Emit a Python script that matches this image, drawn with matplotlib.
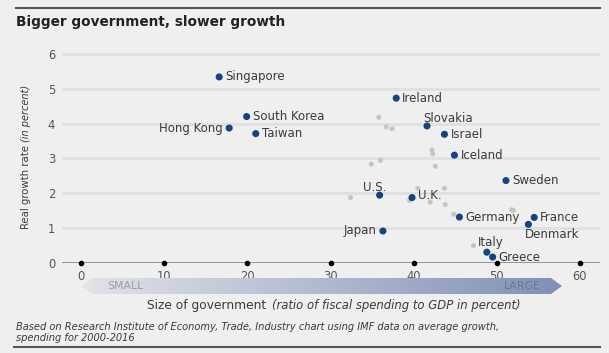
import numpy as np
import matplotlib.pyplot as plt
from matplotlib.patches import Polygon
from matplotlib.colors import LinearSegmentedColormap

plt.rcParams['font.family'] = ['DejaVu Sans']

# labelled countries (blue)
countries = ["Singapore", "South Korea", "Hong Kong", "Taiwan", "Ireland", "Slovakia",
             "Israel", "Iceland", "Sweden", "U.S.", "U.K.", "Germany", "France",
             "Denmark", "Japan", "Greece", ""]
spend = [16.6, 19.9, 17.8, 21.0, 37.9, 41.6, 43.7, 44.9, 51.1, 35.9, 39.8, 45.5, 54.5,
         53.8, 36.3, 49.5, 48.8]
growth = [5.34, 4.20, 3.87, 3.71, 4.73, 3.93, 3.69, 3.09, 2.36, 1.94, 1.87, 1.31, 1.30,
          1.10, 0.91, 0.16, 0.30]

# other countries (gray)
gray_spend = [35.8, 36.7, 37.4, 42.2, 42.3, 36.0, 34.9, 42.6, 32.4, 40.5, 43.7, 39.5,
              42.0, 43.8, 44.8, 51.8, 52.0, 47.2]
gray_growth = [4.18, 3.90, 3.85, 3.24, 3.13, 2.94, 2.83, 2.77, 1.87, 2.14, 2.14, 1.79,
               1.74, 1.67, 1.39, 1.52, 1.50, 0.49]

# label placement: (dx pts, dy pts, ha, va)
offsets = {
    "Singapore": (4.5, 0, "left", "center"),
    "South Korea": (4.5, 0, "left", "center"),
    "Hong Kong": (-4.5, 0, "right", "center"),
    "Taiwan": (4.5, 0, "left", "center"),
    "Ireland": (4.3, 0, "left", "center"),
    "Slovakia": (15, 1, "center", "bottom"),
    "Israel": (4.3, 0, "left", "center"),
    "Iceland": (4.3, 0, "left", "center"),
    "Sweden": (4.3, 0, "left", "center"),
    "U.S.": (-3.5, 1, "center", "bottom"),
    "U.K.": (4, 1.5, "left", "center"),
    "Germany": (4.5, 0, "left", "center"),
    "France": (4.3, 0, "left", "center"),
    "Denmark": (17, -2.5, "center", "top"),
    "Japan": (-4.5, 0, "right", "center"),
    "Greece": (4.3, 0, "left", "center"),
}

bg = "#efefef"
blue = "#15447f"
txt = "#3a3a3a"
lab_fs = 8.5

fig = plt.figure(figsize=(6.09, 3.53), dpi=100, facecolor=bg)
ax = fig.add_axes([0.102, 0.256, 0.883, 0.601], facecolor=bg)

ax.set_xlim(-2.3, 62.4)
ax.set_ylim(0, 6.1)
for yv in range(1, 7):
    ax.axhline(yv, color="#e0e0e0", lw=2, zorder=0)
ax.axhline(0, color="#8a8a8a", lw=2, zorder=1)
xt = [0, 10, 20, 30, 40, 50, 60]
ax.scatter(xt, [0] * len(xt), s=9, color="black", zorder=3, clip_on=False)

ax.scatter(gray_spend, gray_growth, s=13, color="#c4c4c4", zorder=2, edgecolors="none")
ax.scatter(spend, growth, s=26, color=blue, zorder=4, edgecolors="none")

for name, x, y in zip(countries, spend, growth):
    if name not in offsets:
        continue
    dx, dy, ha, va = offsets[name]
    ax.annotate(name, (x, y), xytext=(dx, dy), textcoords="offset points",
                ha=ha, va=va, fontsize=lab_fs, color=txt)
ax.annotate("Italy", (47.2, 0.49), xytext=(3, 2.5), textcoords="offset points",
            ha="left", va="center", fontsize=lab_fs, color=txt)

ax.set_xticks(xt)
ax.set_yticks(range(0, 7))
ax.tick_params(length=0, labelsize=8.3, labelcolor="#555555", pad=5)
ax.tick_params(axis="y", pad=5)
for s in ax.spines.values():
    s.set_visible(False)

W, H = 609, 353
def fx(px):
    return px / W
def fy(py):
    return 1 - py / H

# y label with italic part
t1 = fig.text(fx(26), fy(229), "Real growth rate", rotation=90, ha="center", va="bottom",
              fontsize=7.3, color=txt)
ax.annotate("(in percent)", xy=(0.5, 1), xycoords=t1, xytext=(0, 2),
            textcoords="offset points", rotation=90, ha="center", va="bottom",
            fontsize=7.0, color=txt, style="italic", annotation_clip=False)

# gradient arrow
grad = np.linspace(0, 1, 256).reshape(1, -1)
cmap = LinearSegmentedColormap.from_list("g", ["#e2e3e8", "#8090b6"])
arr_ax = fig.add_axes([fx(82), fy(294), fx(562) - fx(82), fy(278) - fy(294)])
arr_ax.set_xlim(0, 1)
arr_ax.set_ylim(0, 1)
arr_ax.axis("off")
im = arr_ax.imshow(grad, aspect="auto", cmap=cmap, extent=[0, 1, 0, 1])
hl = 11 / 480
poly = Polygon([(0, 0.5), (hl, 1), (1 - hl, 1), (1, 0.5), (1 - hl, 0), (hl, 0)],
               closed=True, transform=arr_ax.transData, facecolor="none", edgecolor="none")
arr_ax.add_patch(poly)
im.set_clip_path(poly)
fig.text(fx(125), fy(286), "SMALL", ha="center", va="center", fontsize=7.8, color="#9a9ca6")
fig.text(fx(522), fy(286), "LARGE", ha="center", va="center", fontsize=7.8, color="#6e7690")

# x label
t2 = fig.text(fx(147), fy(305), "Size of government", ha="left", va="center",
              fontsize=8.8, color=txt)
ax.annotate("(ratio of fiscal spending to GDP in percent)", xy=(1, 0.45), xycoords=t2,
            xytext=(4, 0), textcoords="offset points", ha="left", va="center",
            fontsize=8.4, color=txt, style="italic", annotation_clip=False)

# title, footnote, rules
fig.text(fx(16), fy(22), "Bigger government, slower growth", ha="left", va="center",
         fontsize=9.8, fontweight="bold", color="#222222")
fig.text(fx(16), fy(327), "Based on Research Institute of Economy, Trade, Industry chart using IMF data on average growth,",
         ha="left", va="center", fontsize=7.1, style="italic", color=txt)
fig.text(fx(16), fy(338), "spending for 2000-2016", ha="left", va="center",
         fontsize=7.1, style="italic", color=txt)
fig.add_artist(plt.Line2D([fx(16), fx(600)], [fy(7.5), fy(7.5)], color="#555555", lw=1.5))
fig.add_artist(plt.Line2D([fx(14), fx(600)], [fy(347), fy(347)], color="#555555", lw=1.5))

fig.savefig("out.png", dpi=100, facecolor=bg)
